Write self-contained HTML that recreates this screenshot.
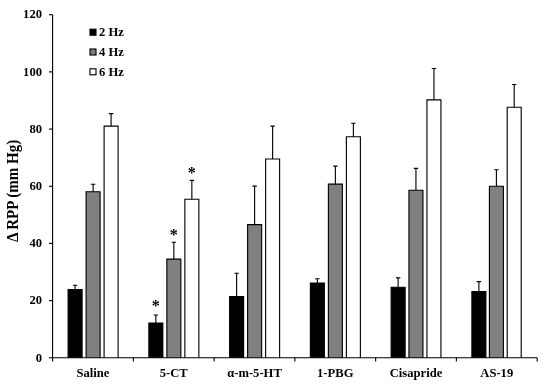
<!DOCTYPE html><html><head><meta charset="utf-8"><title>Chart</title><style>html,body{margin:0;padding:0;background:#fff}body{width:550px;height:388px;overflow:hidden}</style></head><body><svg width="550" height="388" viewBox="0 0 550 388" style="display:block">
<rect width="550" height="388" fill="#fff"/>
<g font-family="'Liberation Serif',serif" font-weight="bold" fill="#000">
<path d="M68.10 357.8V289.60H82.10V357.8" fill="#000" stroke="#000" stroke-width="1.12"/>
<path d="M75.10 289.60V285.30M72.90 285.30H77.30" stroke="#000" stroke-width="1.12" fill="none"/>
<path d="M86.10 357.8V191.80H100.10V357.8" fill="#808080" stroke="#000" stroke-width="1.12"/>
<path d="M93.10 191.80V184.30M90.90 184.30H95.30" stroke="#000" stroke-width="1.12" fill="none"/>
<path d="M104.10 357.8V126.10H118.10V357.8" fill="#fff" stroke="#000" stroke-width="1.12"/>
<path d="M111.10 126.10V113.60M108.90 113.60H113.30" stroke="#000" stroke-width="1.12" fill="none"/>
<text x="92.98" y="377.2" font-size="12.6" text-anchor="middle">Saline</text>
<path d="M148.86 357.8V323.00H162.86V357.8" fill="#000" stroke="#000" stroke-width="1.12"/>
<path d="M155.86 323.00V315.00M153.66 315.00H158.06" stroke="#000" stroke-width="1.12" fill="none"/>
<text x="155.86" y="311.15" font-size="16" text-anchor="middle">*</text>
<path d="M166.86 357.8V259.10H180.86V357.8" fill="#808080" stroke="#000" stroke-width="1.12"/>
<path d="M173.86 259.10V242.30M171.66 242.30H176.06" stroke="#000" stroke-width="1.12" fill="none"/>
<text x="173.86" y="239.95" font-size="16" text-anchor="middle">*</text>
<path d="M184.86 357.8V199.20H198.86V357.8" fill="#fff" stroke="#000" stroke-width="1.12"/>
<path d="M191.86 199.20V180.40M189.66 180.40H194.06" stroke="#000" stroke-width="1.12" fill="none"/>
<text x="191.86" y="178.05" font-size="16" text-anchor="middle">*</text>
<text x="173.74" y="377.2" font-size="12.6" text-anchor="middle">5-CT</text>
<path d="M229.62 357.8V296.50H243.62V357.8" fill="#000" stroke="#000" stroke-width="1.12"/>
<path d="M236.62 296.50V273.20M234.42 273.20H238.82" stroke="#000" stroke-width="1.12" fill="none"/>
<path d="M247.62 357.8V224.60H261.62V357.8" fill="#808080" stroke="#000" stroke-width="1.12"/>
<path d="M254.62 224.60V186.10M252.42 186.10H256.82" stroke="#000" stroke-width="1.12" fill="none"/>
<path d="M265.62 357.8V159.00H279.62V357.8" fill="#fff" stroke="#000" stroke-width="1.12"/>
<path d="M272.62 159.00V126.10M270.42 126.10H274.82" stroke="#000" stroke-width="1.12" fill="none"/>
<text x="254.50" y="377.2" font-size="12.6" text-anchor="middle">α-m-5-HT</text>
<path d="M310.38 357.8V283.10H324.38V357.8" fill="#000" stroke="#000" stroke-width="1.12"/>
<path d="M317.38 283.10V278.80M315.18 278.80H319.58" stroke="#000" stroke-width="1.12" fill="none"/>
<path d="M328.38 357.8V184.10H342.38V357.8" fill="#808080" stroke="#000" stroke-width="1.12"/>
<path d="M335.38 184.10V166.10M333.18 166.10H337.58" stroke="#000" stroke-width="1.12" fill="none"/>
<path d="M346.38 357.8V136.70H360.38V357.8" fill="#fff" stroke="#000" stroke-width="1.12"/>
<path d="M353.38 136.70V123.30M351.18 123.30H355.58" stroke="#000" stroke-width="1.12" fill="none"/>
<text x="335.26" y="377.2" font-size="12.6" text-anchor="middle">1-PBG</text>
<path d="M391.14 357.8V287.30H405.14V357.8" fill="#000" stroke="#000" stroke-width="1.12"/>
<path d="M398.14 287.30V277.90M395.94 277.90H400.34" stroke="#000" stroke-width="1.12" fill="none"/>
<path d="M408.94 357.8V190.30H422.94V357.8" fill="#808080" stroke="#000" stroke-width="1.12"/>
<path d="M415.94 190.30V168.40M413.74 168.40H418.14" stroke="#000" stroke-width="1.12" fill="none"/>
<path d="M426.94 357.8V99.90H440.94V357.8" fill="#fff" stroke="#000" stroke-width="1.12"/>
<path d="M433.94 99.90V68.50M431.74 68.50H436.14" stroke="#000" stroke-width="1.12" fill="none"/>
<text x="416.02" y="377.2" font-size="12.6" text-anchor="middle">Cisapride</text>
<path d="M471.90 357.8V291.60H485.90V357.8" fill="#000" stroke="#000" stroke-width="1.12"/>
<path d="M478.90 291.60V281.60M476.70 281.60H481.10" stroke="#000" stroke-width="1.12" fill="none"/>
<path d="M489.40 357.8V186.30H503.40V357.8" fill="#808080" stroke="#000" stroke-width="1.12"/>
<path d="M496.40 186.30V169.80M494.20 169.80H498.60" stroke="#000" stroke-width="1.12" fill="none"/>
<path d="M507.20 357.8V107.30H521.20V357.8" fill="#fff" stroke="#000" stroke-width="1.12"/>
<path d="M514.20 107.30V84.50M512.00 84.50H516.40" stroke="#000" stroke-width="1.12" fill="none"/>
<text x="496.78" y="377.2" font-size="12.6" text-anchor="middle">AS-19</text>
<path d="M52.6 14.7V357.8H537.16" stroke="#000" stroke-width="1.12" fill="none"/>
<path d="M49.0 357.80H52.6" stroke="#000" stroke-width="1.12"/>
<text x="42" y="361.50" font-size="12.6" text-anchor="end">0</text>
<path d="M52.60 357.8V361.6" stroke="#000" stroke-width="1.12"/>
<path d="M49.0 300.62H52.6" stroke="#000" stroke-width="1.12"/>
<text x="42" y="304.32" font-size="12.6" text-anchor="end">20</text>
<path d="M133.36 357.8V361.6" stroke="#000" stroke-width="1.12"/>
<path d="M49.0 243.43H52.6" stroke="#000" stroke-width="1.12"/>
<text x="42" y="247.13" font-size="12.6" text-anchor="end">40</text>
<path d="M214.12 357.8V361.6" stroke="#000" stroke-width="1.12"/>
<path d="M49.0 186.25H52.6" stroke="#000" stroke-width="1.12"/>
<text x="42" y="189.95" font-size="12.6" text-anchor="end">60</text>
<path d="M294.88 357.8V361.6" stroke="#000" stroke-width="1.12"/>
<path d="M49.0 129.07H52.6" stroke="#000" stroke-width="1.12"/>
<text x="42" y="132.77" font-size="12.6" text-anchor="end">80</text>
<path d="M375.64 357.8V361.6" stroke="#000" stroke-width="1.12"/>
<path d="M49.0 71.88H52.6" stroke="#000" stroke-width="1.12"/>
<text x="42" y="75.58" font-size="12.6" text-anchor="end">100</text>
<path d="M456.40 357.8V361.6" stroke="#000" stroke-width="1.12"/>
<path d="M49.0 14.70H52.6" stroke="#000" stroke-width="1.12"/>
<text x="42" y="18.40" font-size="12.6" text-anchor="end">120</text>
<path d="M537.16 357.8V361.6" stroke="#000" stroke-width="1.12"/>
<text transform="translate(18.4,191) rotate(-90) scale(1,1.055)" font-size="15" text-anchor="middle">Δ RPP (mm Hg)</text>
<rect x="90" y="29.20" width="6" height="6" fill="#000" stroke="#000" stroke-width="1.12"/>
<text x="99" y="36.00" font-size="12.6">2 Hz</text>
<rect x="90" y="49.00" width="6" height="6" fill="#808080" stroke="#000" stroke-width="1.12"/>
<text x="99" y="55.80" font-size="12.6">4 Hz</text>
<rect x="90" y="68.80" width="6" height="6" fill="#fff" stroke="#000" stroke-width="1.12"/>
<text x="99" y="75.60" font-size="12.6">6 Hz</text>
</g></svg></body></html>
